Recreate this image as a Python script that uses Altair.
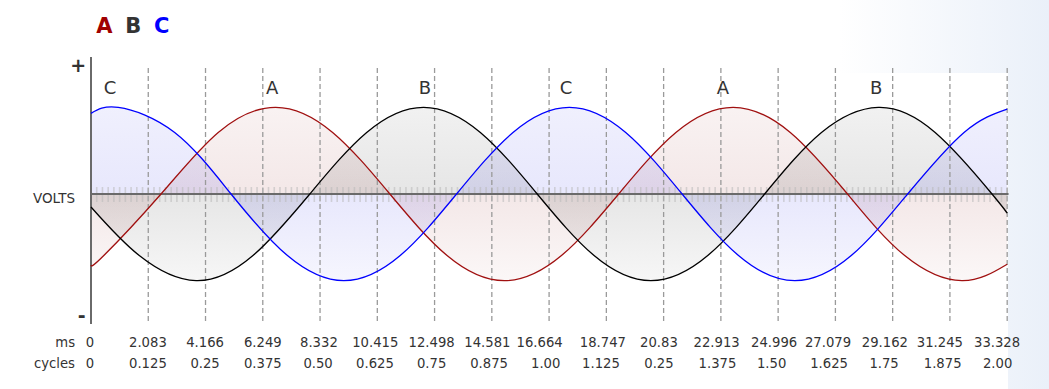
import altair as alt
import pandas as pd

# ---- data (time in ms, volts normalised to peak) ----
a_ms = [0, 0.466, 2.547, 4.628, 6.709, 8.790, 10.871, 12.952, 15.033, 17.114,
        19.195, 21.276, 23.357, 25.438, 27.519, 29.600, 31.681, 33.328]
a_v = [-0.82, -0.71, 0, 0.71, 1, 0.71, 0, -0.71, -1, -0.71,
       0, 0.71, 1, 0.71, 0, -0.71, -1, -0.81]

b_ms = [0, 1.756, 3.824, 5.892, 7.960, 10.028, 12.096, 14.164, 16.232, 18.300,
        20.368, 22.436, 24.504, 26.572, 28.640, 30.708, 32.776, 33.328]
b_v = [-0.15, -0.71, -1, -0.71, 0, 0.71, 1, 0.71, 0, -0.71,
       -1, -0.71, 0, 0.71, 1, 0.71, 0, -0.22]

c_ms = [0, 0.993, 3.044, 5.095, 7.146, 9.197, 11.248, 13.299, 15.350, 17.401,
        19.452, 21.503, 23.554, 25.605, 27.656, 29.707, 31.758, 33.328]
c_v = [0.93, 1, 0.71, 0, -0.71, -1, -0.71, 0, 0.71, 1,
       0.71, 0, -0.71, -1, -0.71, 0, 0.71, 0.98]

# grid (dashed) positions in ms
grid_ms = [2.083, 4.166, 6.249, 8.332, 10.415, 12.498, 14.581, 16.664, 18.747,
           20.83, 22.913, 24.996, 27.079, 29.162, 31.245, 33.328]

ms_labels = ["0", "2.083", "4.166", "6.249", "8.332", "10.415", "12.498", "14.581",
             "16.664", "18.747", "20.83", "22.913", "24.996", "27.079", "29.162",
             "31.245", "33.328"]
# where each label sits along the time axis (ms)
ms_label_pos = [-0.04, 2.07, 4.15, 6.25, 8.29, 10.34, 12.39, 14.42, 16.32, 18.62,
                20.66, 22.76, 24.85, 26.81, 28.88, 30.88, 32.96]

cycle_labels = ["0", "0.125", "0.25", "0.375", "0.50", "0.625", "0.75", "0.875",
                "1.00", "1.125", "0.25", "1.375", "1.50", "1.625", "1.75", "1.875", "2.00"]
cycle_label_pos = [-0.04, 2.07, 4.15, 6.25, 8.26, 10.33, 12.39, 14.48, 16.54, 18.55,
                   20.66, 22.79, 24.76, 26.85, 28.85, 30.98, 32.98]

wave_label_text = ["C", "A", "B", "C", "A", "B"]
wave_label_ms = [0.69, 6.59, 12.15, 17.28, 22.99, 28.56]

legend_text = ["A", "B", "C"]
legend_colors = ["#a00000", "#333333", "#0000ff"]

# ---- layout ----
W, H = 1049, 389
X0_PX, X_PER_MS = 91.0, 27.49
Y0_PX, Y_PER_V = 194.0, 86.7
xs = alt.Scale(domain=[-X0_PX / X_PER_MS, (W - X0_PX) / X_PER_MS], nice=False, zero=False)
ys = alt.Scale(domain=[-(H - Y0_PX) / Y_PER_V, Y0_PX / Y_PER_V], nice=False, zero=False)

FONT = "DejaVu Sans"
TXT = "#333333"
LABEL_SIZE = 13.2

def v_of(py):
    return (Y0_PX - py) / Y_PER_V

# background
bg = alt.Chart(pd.DataFrame({"k": [0]})).mark_rect(
    fill=alt.Gradient(gradient="linear",
                      stops=[alt.GradientStop(color="#ffffff", offset=0),
                             alt.GradientStop(color="#ffffff", offset=0.8),
                             alt.GradientStop(color="#eaf0f9", offset=1)],
                      x1=0, x2=1, y1=0, y2=0)
).encode(x=alt.value(0), x2=alt.value(W), y=alt.value(0), y2=alt.value(H))

panel = alt.Chart(pd.DataFrame({"k": [0]})).mark_rect(fill="#ffffff").encode(
    x=alt.value(0), x2=alt.value(1008), y=alt.value(73), y2=alt.value(H))

def area(ms, v, rgb, a_edge, a_mid):
    df = pd.DataFrame({"ms": ms, "v": v, "z": [0] * len(ms)})
    grad = alt.Gradient(
        gradient="linear",
        stops=[alt.GradientStop(color=f"rgba({rgb},{a_edge})", offset=0),
               alt.GradientStop(color=f"rgba({rgb},{a_mid})", offset=0.5),
               alt.GradientStop(color=f"rgba({rgb},{a_edge * 0.6})", offset=1)],
        x1=0, x2=0, y1=0, y2=1)
    return alt.Chart(df).mark_area(interpolate="natural", fill=grad).encode(
        x=alt.X("ms:Q", scale=xs, axis=None),
        y=alt.Y("v:Q", scale=ys, axis=None),
        y2="z:Q")

def line(ms, v, color):
    df = pd.DataFrame({"ms": ms, "v": v})
    return alt.Chart(df).mark_line(interpolate="natural", color=color, strokeWidth=1.3).encode(
        x=alt.X("ms:Q", scale=xs, axis=None),
        y=alt.Y("v:Q", scale=ys, axis=None))

area_a = area(a_ms, a_v, "150,40,40", 0.06, 0.11)
area_b = area(b_ms, b_v, "60,60,60", 0.07, 0.13)
area_c = area(c_ms, c_v, "40,40,230", 0.07, 0.11)

# dashed verticals
dash_df = pd.DataFrame({"ms": grid_ms, "y1": v_of(68), "y2": v_of(323)})
dashes = alt.Chart(dash_df).mark_rule(color="#9a9a9a", strokeWidth=1.3, strokeDash=[5, 3]).encode(
    x=alt.X("ms:Q", scale=xs, axis=None),
    y=alt.Y("y1:Q", scale=ys, axis=None), y2="y2:Q")

# minor ticks along zero line (ten per grid interval)
step = grid_ms[0] / 10
minor = [i * step for i in range(0, 161)]
minor_df = pd.DataFrame({"ms": minor, "y1": v_of(187), "y2": v_of(202)})
minor_ticks = alt.Chart(minor_df).mark_rule(color="#b8b8b8", strokeWidth=1.6, opacity=0.55).encode(
    x=alt.X("ms:Q", scale=xs, axis=None),
    y=alt.Y("y1:Q", scale=ys, axis=None), y2="y2:Q")

zero_df = pd.DataFrame({"ms": [0.0], "ms2": [grid_ms[-1] + 0.05], "v": [0.0]})
zero_line = alt.Chart(zero_df).mark_rule(color="#6a6a6a", strokeWidth=2).encode(
    x=alt.X("ms:Q", scale=xs, axis=None), x2="ms2:Q",
    y=alt.Y("v:Q", scale=ys, axis=None))

axis_df = pd.DataFrame({"ms": [0.0], "y1": [v_of(57)], "y2": [v_of(324)]})
v_axis = alt.Chart(axis_df).mark_rule(color="#6a6a6a", strokeWidth=2).encode(
    x=alt.X("ms:Q", scale=xs, axis=None),
    y=alt.Y("y1:Q", scale=ys, axis=None), y2="y2:Q")

line_a = line(a_ms, a_v, "#a01010")
line_b = line(b_ms, b_v, "#000000")
line_c = line(c_ms, c_v, "#0000ff")

# texts
def static_text(t, px, py, size, align="center", bold=False, color=TXT):
    return alt.Chart(pd.DataFrame({"t": [t]})).mark_text(
        font=FONT, fontSize=size, align=align, baseline="middle",
        fontWeight="bold" if bold else "normal", color=color
    ).encode(text="t:N", x=alt.value(px), y=alt.value(py))

legend_layers = [static_text(t, px, 27.3, 21, bold=True, color=c)
                 for t, px, c in zip(legend_text, [104.3, 133.3, 161.7], legend_colors)]

plus = static_text("+", 78.3, 65.7, 19, bold=True)
minus = static_text("-", 81.7, 316.0, 19, bold=True)
volts = static_text("VOLTS", 75, 198.5, 13.5, align="right")
ms_name = static_text("ms", 75, 343.3, LABEL_SIZE, align="right")
cyc_name = static_text("cycles", 75, 364, LABEL_SIZE, align="right")

ms_df = pd.DataFrame({"pos": ms_label_pos, "t": ms_labels})
ms_text = alt.Chart(ms_df).mark_text(font=FONT, fontSize=LABEL_SIZE, color=TXT, baseline="middle").encode(
    x=alt.X("pos:Q", scale=xs, axis=None), y=alt.value(343.3), text="t:N")
cyc_df = pd.DataFrame({"pos": cycle_label_pos, "t": cycle_labels})
cyc_text = alt.Chart(cyc_df).mark_text(font=FONT, fontSize=LABEL_SIZE, color=TXT, baseline="middle").encode(
    x=alt.X("pos:Q", scale=xs, axis=None), y=alt.value(364), text="t:N")

wl_df = pd.DataFrame({"ms": wave_label_ms, "t": wave_label_text})
wave_labels = alt.Chart(wl_df).mark_text(font=FONT, fontSize=18, color=TXT, baseline="middle").encode(
    x=alt.X("ms:Q", scale=xs, axis=None), y=alt.value(88.5), text="t:N")

chart = alt.layer(
    bg, panel, area_a, area_b, area_c, dashes, minor_ticks, zero_line, v_axis,
    line_a, line_b, line_c, *legend_layers, plus, minus, volts, ms_name, cyc_name,
    ms_text, cyc_text, wave_labels
).properties(
    width=W, height=H, padding=0,
    autosize=alt.AutoSizeParams(type="none"),
    background="#ffffff"
).configure_view(stroke=None)

chart.save("out.html", embed_options={"renderer": "svg", "actions": False})
